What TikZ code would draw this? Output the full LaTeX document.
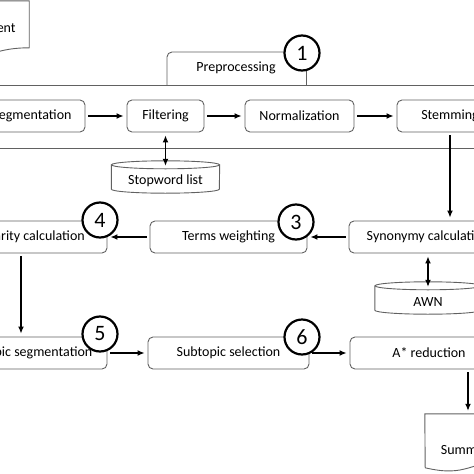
\documentclass[tikz,border=0pt]{standalone}
\usepackage{fontspec}
\setmainfont{Carlito}
\usetikzlibrary{arrows.meta}
\newcommand\Paper[1]{\draw[edge] (#1.north west)--(#1.north east)--++(0,47)
	.. controls +(-43,0) and +(43,10) .. ++(-86,7)--cycle;}
\newcommand\Drum[2]{\draw[edge] ([yshift=4pt]#1.north) ellipse[x radius=#2,y radius=4pt];
	\draw[edge] ([yshift=4pt]#1.north west)--([yshift=4pt]#1.south west)
	arc[start angle=180,end angle=360,x radius=#2,y radius=4pt]--([yshift=4pt]#1.north east);}

\begin{document}
\begin{tikzpicture}[x=1pt,y=-1pt,font=\fontsize{14}{16}\selectfont,
	>={Latex[length=7pt,width=6pt]},
	edge/.style={draw=black!62,line width=.9pt},
	box/.style={edge,rounded corners=5pt,minimum height=32,inner sep=0pt},
	num/.style={circle,draw,line width=2.2pt,fill=white,minimum size=35,inner sep=0pt,font=\fontsize{22}{22}\selectfont},
	arr/.style={line width=1.3pt,shorten <=3pt,shorten >=3pt}]
\useasboundingbox (0,0) rectangle (474,474);
\clip (0,0) rectangle (474,474);
\draw[edge] (-10,85)--(490,85) (-10,148)--(490,148);
\draw[edge,rounded corners=5pt] (167,85)--(167,52)--(300,52);
\draw[edge] (306,85)--(306,60);
\node (pre) at (236,68) {Preprocessing};
\node[box,minimum width=106] (seg) at (32,116) {Segmentation};
\node[box,minimum width=77] (filt) at (165.5,116) {Filtering};
\node[box,minimum width=109] (norm) at (299.5,116) {Normalization};
\node[box,minimum width=106] (stem) at (450,116) {Stemming};
\node[box,minimum width=162] (sim) at (26,237) {Similarity calculation};
\node[box,minimum width=157] (tw) at (228.5,237) {Terms weighting};
\node[box,minimum width=158] (syn) at (428,237) {Synonymy calculation};
\node[box,minimum width=140] (topic) at (37,353) {Topic segmentation};
\node[box,minimum width=161] (sub) at (228.5,353) {Subtopic selection};
\node[box,minimum width=158] (astar) at (429,353) {A* reduction};
\node[minimum width=108,minimum height=24,inner sep=0pt] (stop) at (165.5,181) {Stopword list};
\node[minimum width=106,minimum height=24,inner sep=0pt] (awn) at (428,302) {AWN};
\Drum{stop}{54pt}
\Drum{awn}{53pt}
\node[minimum width=86,minimum height=54,inner sep=0pt] (doc) at (-14,28) {Document};
\node[minimum width=86,minimum height=74,inner sep=0pt] (summ) at (468,451) {Summary};
\Paper{doc}
\Paper{summ}
\node[num] (one) at (302,53) {1};
\node[num] (three) at (296,222) {3};
\node[num] (four) at (100,220) {4};
\node[num] (five) at (100,334) {5};
\node[num] (six) at (302,337) {6};
\draw[arr,->] (seg)--(filt);
\draw[arr,->] (filt)--(norm);
\draw[arr,->] (norm)--(stem);
\draw[arr,<->] (filt.south)--(stop.north);
\draw[arr,->] (stem.south)--(stem.south |- syn.north);
\draw[arr,->] (syn)--(tw);
\draw[arr,->] (tw)--(sim);
\draw[arr,<->] (syn.south)--(awn.north);
\draw[arr,->] ([xshift=-5pt]sim.south)--([xshift=-5pt]sim.south |- topic.north);
\draw[arr,->] (topic)--(sub);
\draw[arr,->] (sub)--(astar);
\draw[arr,->] (summ.north |- astar.south)--(summ.north);
\end{tikzpicture}
\end{document}
